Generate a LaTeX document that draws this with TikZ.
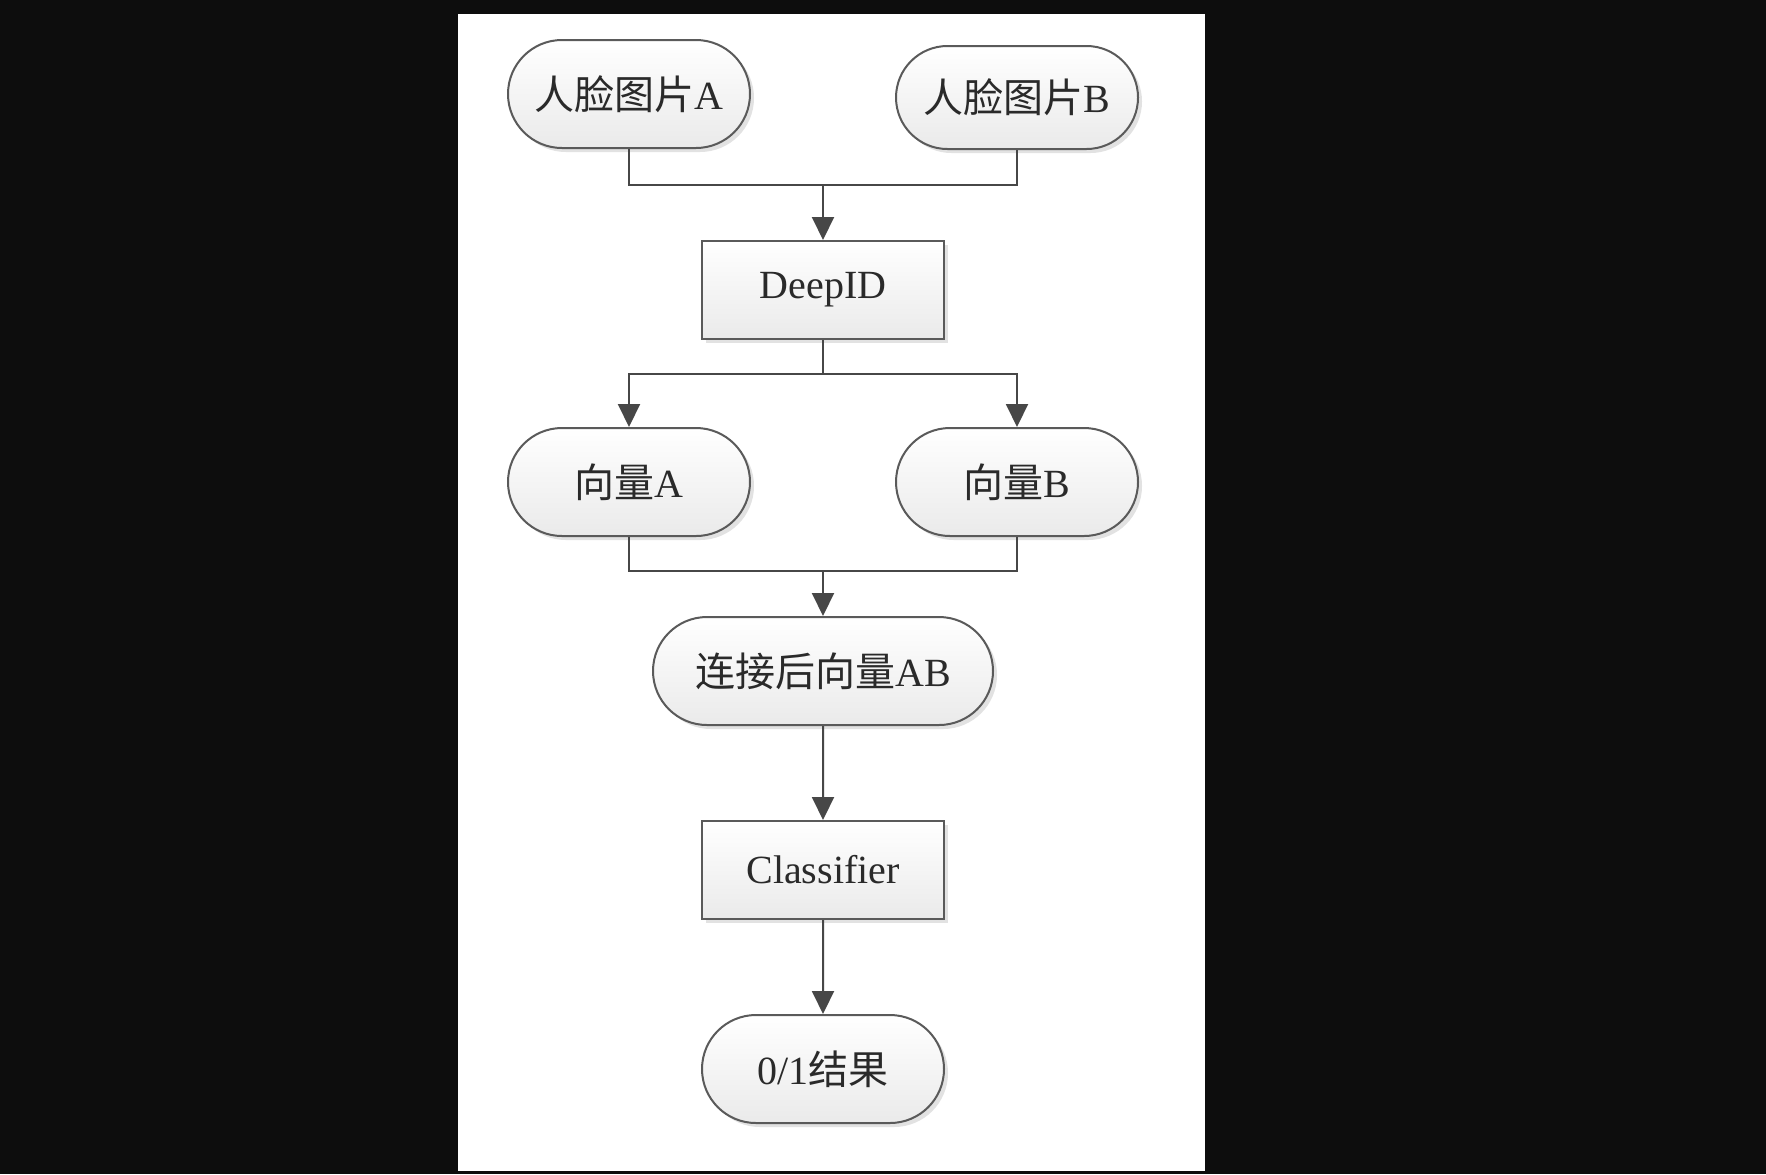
\documentclass[tikz,border=0pt]{standalone}
\usepackage{fontspec}
\setmainfont{Liberation Serif}
\newfontfamily\cjk{Noto Sans CJK SC}
\usetikzlibrary{arrows.meta,shapes.misc,shadows}

\definecolor{bgblack}{HTML}{0D0D0D}
\definecolor{linegray}{HTML}{474747}
\definecolor{edgegray}{HTML}{5A5A5A}
\definecolor{textgray}{HTML}{2A2A2A}
\definecolor{shadegray}{HTML}{EAEAEA}

\begin{document}
\begin{tikzpicture}[x=0.5pt,y=-0.5pt, line width=1pt, linegray, arrows={-Triangle[length=11.5pt,width=11pt]},
	box/.style={draw=edgegray, top color=white, bottom color=shadegray, text=textgray, font=\fontsize{20pt}{24pt}\selectfont,
		inner sep=0pt, drop shadow={shadow xshift=2pt, shadow yshift=-2pt, opacity=.25, fill=black!45}},
	term/.style={box, rounded rectangle, minimum width=121pt, minimum height=54pt},
	proc/.style={box, rectangle, minimum width=121pt, minimum height=49pt}]
	\fill[bgblack] (0,0) rectangle (1766,1174);
	\fill[white] (458,13.5) rectangle (1205,1171);
	\useasboundingbox (0,0) rectangle (1766,1174);

	\node[term] (ImgA) at (629,94) {{\cjk 人脸图片}A};
	\node[term, minimum height=51.5pt] (ImgB) at (1017,97.5) {{\cjk 人脸图片}B};
	\node[proc] (DeepID) at (823,290) {DeepID};
	\node[term] (VecA) at (629,482) {{\cjk 向量}A};
	\node[term] (VecB) at (1017,482) {{\cjk 向量}B};
	\node[term, minimum width=170pt] (VecAB) at (823,671) {{\cjk 连接后向量}AB};
	\node[proc] (Clf) at (823,870) {Classifier};
	\node[term] (Res) at (823,1069) {0/1{\cjk 结果}};

	\coordinate (J1) at (823,185);
	\coordinate (J2) at (823,374);
	\coordinate (J3) at (823,571);

	\draw[-] (ImgA) |- (J1) -| (ImgB);
	\draw (J1) to (DeepID);
	\draw[-] (DeepID) to (J2);
	\draw (J2) -| (VecA);
	\draw (J2) -| (VecB);
	\draw[-] (VecA) |- (J3) -| (VecB);
	\draw (J3) to (VecAB);
	\draw (VecAB) to (Clf);
	\draw (Clf) to (Res);
\end{tikzpicture}
\end{document}
